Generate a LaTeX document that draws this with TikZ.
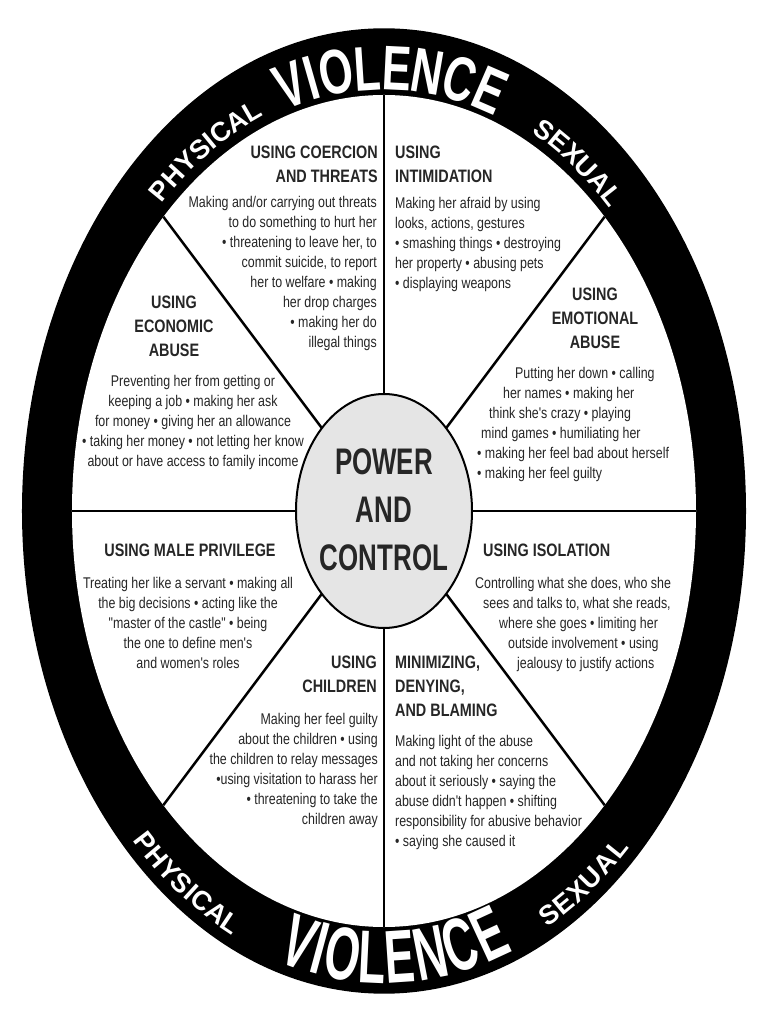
\documentclass[tikz,border=0pt]{standalone}
\usepackage{fontspec}
\setmainfont{Liberation Sans}[FakeStretch=0.8]
\newfontfamily\txfont{Liberation Sans}[FakeStretch=0.8]
\newfontfamily\pcfont{Liberation Sans}[FakeStretch=0.7]
\newfontfamily\vtfont{Liberation Sans}[FakeStretch=0.69]
\newfontfamily\vbfont{Liberation Sans}[FakeStretch=0.6]
\newfontfamily\sxfont{Liberation Sans}[FakeStretch=1.0]
\usetikzlibrary{shapes.geometric}
\begin{document}
\begin{tikzpicture}[x=1pt,y=1pt,
  head/.style={font=\txfont\bfseries\fontsize{18}{24}\selectfont, inner sep=0pt, text=black!85},
  body/.style={font=\txfont\fontsize{15.5}{20}\selectfont, inner sep=0pt, text=black!85},
  spoke/.style={line width=2.5pt},
  rimletter/.style={text=white, inner sep=0pt, anchor=base},
  vtl/.style={rimletter, font=\vtfont\bfseries\fontsize{63}{63}\selectfont},
  vbl/.style={rimletter, font=\vbfont\bfseries\fontsize{75}{75}\selectfont},
  sxl/.style={rimletter, font=\sxfont\bfseries\fontsize{27}{27}\selectfont},
  uprot/.style={rotate={atan2(sin(#1),1.3333*cos(#1))-90}},
  downrot/.style={rotate={atan2(sin(#1),1.3333*cos(#1))+90}}
]
\useasboundingbox (-384,-513) rectangle (384,511);
\fill[white] (-384,-513) rectangle (384,511);
% rim
\fill[black] (0,0) ellipse [x radius=362, y radius=482.7];
\fill[white] (0,0) ellipse [x radius=312, y radius=416];
% spokes
\coordinate (c) at (0,0);
\foreach \a in {0,45,...,315}{
  \coordinate (r\a) at ({312*cos(\a)},{416*sin(\a)});
  \draw[spoke] (c) -- (r\a);
}
% centre
\node[ellipse, draw, line width=2pt, fill=black!10, minimum width=176, minimum height=234, inner sep=0pt] (pc) at (c) {};
\node[font=\pcfont\bfseries\fontsize{37}{48}\selectfont, align=center, inner sep=0pt, text=black!85] (pct) at (0,1) {POWER\\AND\\CONTROL};
% curved labels on the rim, letter by letter
\foreach \ch/\t [count=\i] in {V/105.8, I/102.1, O/98.0, L/92.8, E/87.9, N/82.7, C/77.3, E/72.0}
  \node[vtl, uprot=\t] (vt\i) at ({316*cos(\t)},{421.3*sin(\t)}) {\ch};
\foreach \ch/\t [count=\i] in {P/132.6, H/129.6, Y/126.6, S/123.8, I/121.7, C/119.5, A/116.4, L/113.5}
  \node[sxl, uprot=\t] (pt\i) at ({320*cos(\t)},{426.7*sin(\t)}) {\ch};
\foreach \ch/\t [count=\i] in {S/61.0, E/58.1, X/55.2, U/52.3, A/49.2, L/46.4}
  \node[sxl, uprot=\t] (st\i) at ({320*cos(\t)},{426.7*sin(\t)}) {\ch};
\foreach \ch/\t [count=\i] in {V/254.7, I/258.5, O/262.7, L/268.0, E/272.9, N/278.3, C/283.8, E/289.1}
  \node[vbl, downrot=\t] (vb\i) at ({354*cos(\t)},{472*sin(\t)}) {\ch};
\foreach \ch/\t [count=\i] in {P/225.7, H/228.4, Y/231.1, S/233.7, I/235.7, C/237.7, A/240.6, L/243.3}
  \node[sxl, downrot=\t] (pb\i) at ({352.5*cos(\t)},{470*sin(\t)}) {\ch};
\foreach \ch/\t [count=\i] in {S/298.9, E/301.7, X/304.5, U/307.3, A/310.3, L/313.1}
  \node[sxl, downrot=\t] (sb\i) at ({352.5*cos(\t)},{470*sin(\t)}) {\ch};
% sectors
\node[head, anchor=north east, align=right] (h1) at (-6,365.5) {USING COERCION\\AND THREATS};
\node[body, anchor=north east, align=right] (b1) at (-7,315) {Making and/or carrying out threats\\to do something to hurt her\\• threatening to leave her, to\\commit suicide, to report\\her to welfare • making\\her drop charges\\• making her do\\illegal things};
\node[head, anchor=north west, align=left] (h2) at (11,365.5) {USING\\INTIMIDATION};
\node[body, anchor=north west, align=left] (b2) at (11,314) {Making her afraid by using\\looks, actions, gestures\\• smashing things • destroying\\her property • abusing pets\\• displaying weapons};
\node[head, anchor=north, align=center] (h3) at (-210,215.5) {USING\\ECONOMIC\\ABUSE};
\node[body, anchor=north, align=center] (b3) at (-191,136) {Preventing her from getting or\\keeping a job • making her ask\\for money • giving her an allowance\\• taking her money • not letting her know\\about or have access to family income};
\node[head, anchor=north, align=center] (h4) at (211,223.5) {USING\\EMOTIONAL\\ABUSE};
\node[body, anchor=north west, align=left] (b4) at (93,144) {\hspace*{38pt}Putting her down • calling\\\hspace*{26pt}her names • making her\\\hspace*{12pt}think she's crazy • playing\\\hspace*{4pt}mind games • humiliating her\\• making her feel bad about herself\\• making her feel guilty};
\node[head, anchor=north] (h5) at (-194,-32.5) {USING MALE PRIVILEGE};
\node[body, anchor=north, align=center] (b5) at (-196,-66) {Treating her like a servant • making all\\the big decisions • acting like the\\"master of the castle" • being\\the one to define men's\\and women's roles};
\node[head, anchor=north west] (h6) at (99,-32.5) {USING ISOLATION};
\node[body, anchor=north west, align=left] (b6) at (91,-66) {Controlling what she does, who she\\\hspace*{8pt}sees and talks to, what she reads,\\\hspace*{24pt}where she goes • limiting her\\\hspace*{33pt}outside involvement • using\\\hspace*{42pt}jealousy to justify actions};
\node[head, anchor=north east, align=right] (h7) at (-7,-144.5) {USING\\CHILDREN};
\node[body, anchor=north east, align=right] (b7) at (-6,-202) {Making her feel guilty\\about the children • using\\the children to relay messages\\•using visitation to harass her\\• threatening to take the\\children away};
\node[head, anchor=north west, align=left] (h8) at (11,-144.5) {MINIMIZING,\\DENYING,\\AND BLAMING};
\node[body, anchor=north west, align=left] (b8) at (11,-224) {Making light of the abuse\\and not taking her concerns\\about it seriously • saying the\\abuse didn't happen • shifting\\responsibility for abusive behavior\\• saying she caused it};
\end{tikzpicture}
\end{document}
